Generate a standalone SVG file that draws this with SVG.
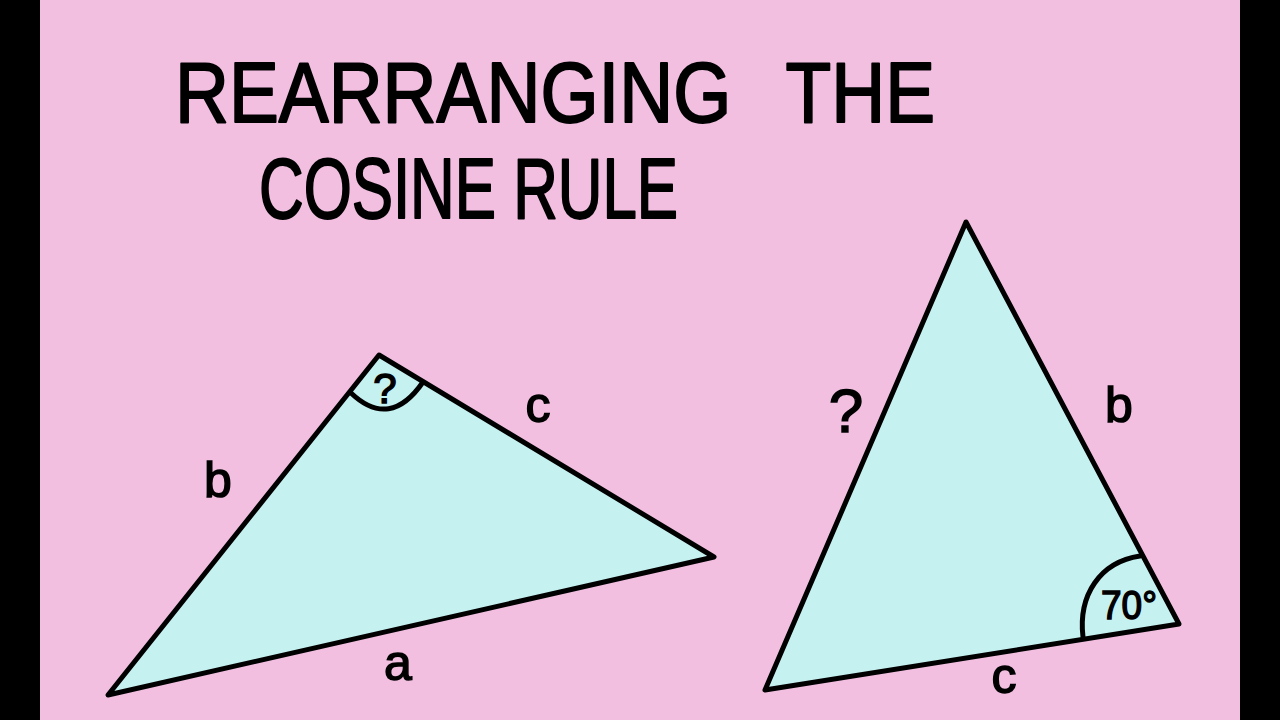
<svg xmlns="http://www.w3.org/2000/svg" width="1280" height="720" viewBox="0 0 1280 720">
<style>
.title{font-family:"Liberation Sans",Arial,sans-serif;font-size:86px;fill:#000;stroke:#000;stroke-width:2;stroke-linejoin:round}
.lbl{font-family:"Liberation Sans",Arial,sans-serif;font-size:50px;fill:#000;stroke:#000;stroke-width:1.5;text-anchor:middle}
.tri{fill:#C6F1F1;stroke:#000;stroke-width:5;stroke-linejoin:round}
.arc{fill:none;stroke:#000;stroke-width:5;stroke-linecap:round}
</style>
<rect x="0" y="0" width="1280" height="720" fill="#000"/>
<rect x="40" y="0" width="1200" height="720" fill="#F2BFE1"/>
<g id="title">
<text class="title" x="175" y="122" textLength="760" lengthAdjust="spacingAndGlyphs" style="word-spacing:40px">REARRANGING THE</text>
<text class="title" x="259" y="218" textLength="419" lengthAdjust="spacingAndGlyphs">COSINE RULE</text>
</g>
<g id="triangle1">
<polygon class="tri" points="108,695 379,355 714,557"/>
<path class="arc" d="M351,393 Q390,430 423,382"/>
<text class="lbl" x="385" y="403" style="font-size:42px">?</text>
<text class="lbl" x="538" y="422">c</text>
<text class="lbl" x="218" y="497">b</text>
<text class="lbl" x="398" y="680">a</text>
</g>
<g id="triangle2">
<polygon class="tri" points="966,222 765,690 1179,624"/>
<path class="arc" d="M1083,637 C1078,595 1100,562 1140,556"/>
<text class="lbl" x="1129" y="619" style="font-size:40px" textLength="56" lengthAdjust="spacingAndGlyphs">70°</text>
<text class="lbl" x="846" y="432" style="font-size:62px">?</text>
<text class="lbl" x="1119" y="422">b</text>
<text class="lbl" x="1004" y="693">c</text>
</g>
</svg>
